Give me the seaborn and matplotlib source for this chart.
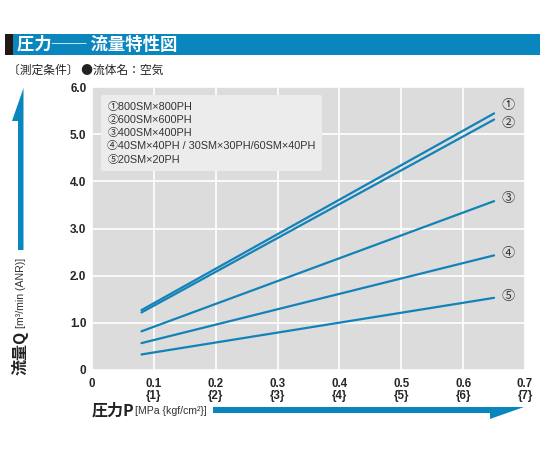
import numpy as np
import pandas as pd
import seaborn as sns
import matplotlib
matplotlib.use("Agg")
import matplotlib.pyplot as plt
from matplotlib.patches import Polygon, Rectangle
from matplotlib.lines import Line2D
from matplotlib.transforms import IdentityTransform

# ---------------- data ----------------
series_names = ["①", "②", "③", "④", "⑤"]
legend_labels = ["①800SM×800PH", "②600SM×600PH", "③400SM×400PH",
                 "④40SM×40PH / 30SM×30PH/60SM×40PH", "⑤20SM×20PH"]
pressure = [0.08, 0.65]
flow_1 = [1.27, 5.44]
flow_2 = [1.22, 5.31]
flow_3 = [0.82, 3.58]
flow_4 = [0.57, 2.43]
flow_5 = [0.33, 1.53]
label_dy = [0.17, -0.08, 0.06, 0.05, 0.03]
x_ticks = [0, 0.1, 0.2, 0.3, 0.4, 0.5, 0.6, 0.7]
x_tick_labels = ["0", "0.1\n{1}", "0.2\n{2}", "0.3\n{3}", "0.4\n{4}",
                 "0.5\n{5}", "0.6\n{6}", "0.7\n{7}"]
y_ticks = [0, 1, 2, 3, 4, 5, 6]
y_tick_labels = ["0", "1.0", "2.0", "3.0", "4.0", "5.0", "6.0"]

flows = [flow_1, flow_2, flow_3, flow_4, flow_5]
df = pd.DataFrame({
    "P": np.concatenate([pressure] * 5),
    "Q": np.concatenate(flows),
    "series": np.repeat(series_names, 2),
})

BLUE = "#1382b8"
BAR = "#0a86bf"
CJK = ["Noto Sans CJK JP", "DejaVu Sans"]
LAT = ["Liberation Sans", "Noto Sans CJK JP", "DejaVu Sans"]

sns.set_style("white")
plt.rcParams["font.family"] = CJK

W, H = 540, 450
fig = plt.figure(figsize=(W / 100, H / 100), dpi=100)

def px(x0, y0, w, h):
    return [x0 / W, 1 - (y0 + h) / H, w / W, h / H]

ax = fig.add_axes(px(92, 87, 433, 283))
ax.set_facecolor("#dcdcdc")
sns.lineplot(data=df, x="P", y="Q", hue="series", palette=[BLUE] * 5,
             legend=False, linewidth=1.6, ax=ax)
ax.set_xlim(0, 0.7)
ax.set_ylim(0, 6.0)
ax.set_xticks(x_ticks)
ax.set_xticklabels(x_tick_labels, fontsize=8.3, fontweight="bold",
                   family=LAT, linespacing=1.0, va="top")
ax.set_yticks(y_ticks)
ax.set_yticklabels(y_tick_labels, fontsize=8.5, fontweight="bold", family=LAT)
ax.tick_params(axis="both", length=0)
ax.tick_params(axis="x", pad=6)
ax.tick_params(axis="y", pad=4)
ax.grid(True, color="white", linewidth=1.2)
ax.set_axisbelow(True)
for s in ax.spines.values():
    s.set_visible(False)
ax.set_xlabel("")
ax.set_ylabel("")

# end labels
for name, f, dy in zip(series_names, flows, label_dy):
    ax.text(pressure[-1] + 0.012, f[-1] + dy, name, fontsize=9.5,
            va="center", ha="left", color="#333333", family=CJK)

# legend box
handles = [Line2D([], [], alpha=0) for _ in legend_labels]
leg = ax.legend(handles, legend_labels, loc="upper left",
                bbox_to_anchor=(0.008, 0.99), handlelength=0, handletextpad=0,
                frameon=True, fancybox=True, labelspacing=0.3,
                borderpad=0.6, prop={"family": LAT, "size": 7.8})
fr = leg.get_frame()
fr.set_facecolor("#ececec")
fr.set_edgecolor("none")
fr.set_alpha(1)
for t in leg.get_texts():
    t.set_color("#333333")

# ---------- title bar ----------
fig.add_artist(Rectangle((13, H - 55), W - 13, 21, transform=IdentityTransform(),
                         facecolor=BAR, edgecolor="none"))
fig.add_artist(Rectangle((5, H - 55), 8, 21, transform=IdentityTransform(),
                         facecolor="#231815", edgecolor="none"))
fig.text(17 / W, 1 - 44.5 / H, "圧力── 流量特性図", color="white", fontsize=12.5,
         fontweight="bold", va="center", ha="left", family=CJK)
fig.text(8 / W, 1 - 70 / H, "〔測定条件〕 ●流体名：空気", color="#222222",
         fontsize=8.5, va="center", ha="left", family=CJK)

# ---------- axis label arrows ----------
fig.add_artist(Polygon([(213, H - 407), (524, H - 407), (490, H - 419),
                        (490, H - 413), (213, H - 413)],
                       closed=True, transform=IdentityTransform(),
                       facecolor=BAR, edgecolor="none"))
fig.add_artist(Polygon([(18, H - 250), (23.5, H - 250), (23.5, H - 88),
                        (12, H - 121), (18, H - 121)],
                       closed=True, transform=IdentityTransform(),
                       facecolor=BAR, edgecolor="none"))

fig.text(92 / W, 1 - 411 / H, "圧力P", fontsize=11.5, fontweight="bold",
         va="center", ha="left", family=CJK, color="#222222")
fig.text(135 / W, 1 - 411 / H, "[MPa {kgf/cm²}]", fontsize=7.6, va="center",
         ha="left", family=LAT, color="#333333")

fig.text(20.5 / W, 1 - 375 / H, "流量Q", fontsize=11.5, fontweight="bold",
         rotation=90, va="bottom", ha="center", family=CJK, color="#222222")
fig.text(20.5 / W, 1 - 328 / H, "[m³/min (ANR)]", fontsize=7.6, rotation=90,
         va="bottom", ha="center", family=LAT, color="#333333")

fig.savefig("out.png", dpi=100)
